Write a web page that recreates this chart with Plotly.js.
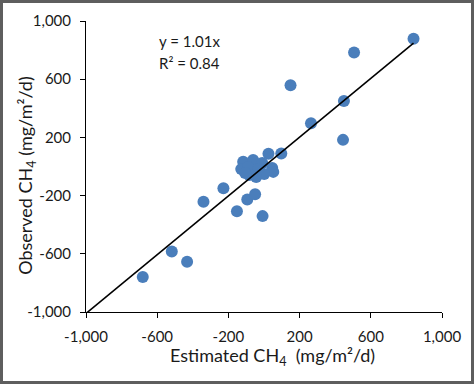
<!DOCTYPE html>
<html>
<head>
<meta charset="utf-8">
<script src="https://cdn.plot.ly/plotly-3.0.1.min.js"></script>
<style>
  body { margin: 0; background: #fff; }
  #wrap { position: relative; width: 474px; height: 384px; }
  #plot { width: 474px; height: 384px; }
  #frame { position: absolute; left: 0; top: 0; width: 474px; height: 384px; box-sizing: border-box;
           border: 3px solid #5e5e5e; pointer-events: none; }
</style>
</head>
<body>
<div id="wrap"><div id="plot"></div><div id="frame"></div></div>
<script>
// Observed vs estimated CH4 (mg/m2/d)
const estimated = [840, 506, 149, 449, 264, 444, 97, 25, -117, -61, -10, 46, 52, -128, -89, -33, 1, -83, -44, -106, -228, -340, -152, -94, -50, -8, -681, -518, -432];
const observed  = [878, 784, 558, 450, 297, 183, 90, 87, 32, 45, 24, -10, -37, -18, -4, -18, -52, -59, -73, -45, -150, -243, -307, -227, -190, -341, -760, -584, -655];

// Trend line y = 1.01x, drawn across the data range
const trendSlope = 1.01;
const trendX = [-1000, 840];
const trendY = trendX.map(v => trendSlope * v);

const tickVals = [-1000, -600, -200, 200, 600, 1000];
const tickText = ["-1,000", "-600", "-200", "200", "600", "1,000"];

const xTitle = "Estimated CH<sub>4</sub>\u00a0 (mg/m²/d)";
const yTitle = "Observed CH<sub>4</sub> (mg/m²/d)";

const font = {family: "Lato, 'Open Sans', sans-serif", size: 15, color: "#1a1a1a"};
const titleFont = {family: "Lato, 'Open Sans', sans-serif", size: 18, color: "#1a1a1a"};

const traces = [
  {
    x: estimated, y: observed, type: "scatter", mode: "markers",
    marker: {color: "#4a7ebb", size: 12, line: {width: 0}},
    hoverinfo: "skip", showlegend: false
  },
  {
    x: trendX, y: trendY, type: "scatter", mode: "lines",
    line: {color: "#000000", width: 1.6},
    hoverinfo: "skip", showlegend: false
  }
];

const axisBase = {
  range: [-1000, 1000], tickvals: tickVals, ticktext: tickText,
  showgrid: false, zeroline: false, showline: true, linecolor: "#000", linewidth: 1,
  ticks: "outside", ticklen: 5, tickcolor: "#000", tickfont: font, fixedrange: true
};

const layout = {
  width: 474, height: 384,
  margin: {l: 86, r: 32, t: 21, b: 72},
  paper_bgcolor: "#fff", plot_bgcolor: "#fff",
  font: font,
  xaxis: Object.assign({}, axisBase, {ticklabelstandoff: 6}),
  yaxis: Object.assign({}, axisBase, {ticklabelstandoff: 6}),
  annotations: [
    {text: "y = 1.01x", xref: "paper", yref: "paper", x: 0.2, y: 0.93,
     xanchor: "left", yanchor: "middle", showarrow: false, font: font},
    {text: "R² = 0.84", xref: "paper", yref: "paper", x: 0.2, y: 0.857,
     xanchor: "left", yanchor: "middle", showarrow: false, font: font},
    {text: xTitle, xref: "paper", yref: "paper", x: 0.523, y: -0.153,
     xanchor: "center", yanchor: "middle", showarrow: false, font: titleFont},
    {text: yTitle, xref: "paper", yref: "paper", x: -0.166, y: 0.471, textangle: -90,
     xanchor: "center", yanchor: "middle", showarrow: false, font: titleFont}
  ]
};

Plotly.newPlot("plot", traces, layout, {staticPlot: true, displayModeBar: false});
</script>
</body>
</html>
